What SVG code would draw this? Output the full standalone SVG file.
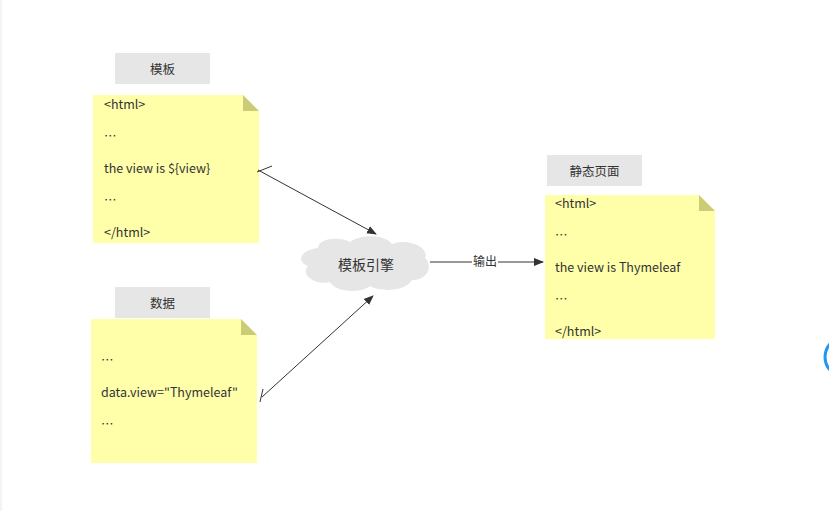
<svg xmlns="http://www.w3.org/2000/svg" width="829" height="511" viewBox="0 0 829 511">
<style>
.t{font-family:"Microsoft YaHei","Noto Sans CJK SC","Liberation Sans",sans-serif;font-size:12.5px;fill:#333}
.lb{fill:#e6e6e6}
.note{fill:#ffffaa}
.fold{fill:#cccc77}
.c{stroke:#333;stroke-width:1;fill:none}
</style>
<defs>
<marker id="a" markerWidth="10" markerHeight="10" refX="9" refY="5" orient="auto" markerUnits="userSpaceOnUse"><path d="M0,1 L10,5 L0,9 Z" fill="#333"/></marker>
</defs>
<rect width="829" height="511" fill="#fff"/>
<line x1="1" y1="0" x2="1" y2="511" stroke="#e8e8e8"/>
<circle cx="845" cy="357" r="20" fill="none" stroke="#2196f3" stroke-width="3"/>
<g id="label1"><rect class="lb" x="115" y="53" width="95" height="31"/><text class="t" x="162.5" y="74" text-anchor="middle">模板</text></g>
<g id="note1"><path class="note" d="M93,95 H243 L259,111 V243 H93 Z"/><path class="fold" d="M243,95 L259,111 H243 Z"/>
<text class="t" x="104" y="109">&lt;html&gt;</text><text class="t" x="104" y="141">…</text><text class="t" x="104" y="173">the view is ${view}</text><text class="t" x="104" y="205">…</text><text class="t" x="104" y="237">&lt;/html&gt;</text></g>
<g id="label2"><rect class="lb" x="115" y="287" width="95" height="31"/><text class="t" x="162.5" y="308" text-anchor="middle">数据</text></g>
<g id="note2"><path class="note" d="M91,319 H241 L257,335 V463 H91 Z"/><path class="fold" d="M241,319 L257,335 H241 Z"/>
<text class="t" x="101" y="365">…</text><text class="t" x="101" y="397">data.view="Thymeleaf"</text><text class="t" x="101" y="429">…</text></g>
<g id="label3"><rect class="lb" x="547" y="155" width="95" height="31"/><text class="t" x="594.5" y="176" text-anchor="middle">静态页面</text></g>
<g id="note3"><path class="note" d="M545,195 H699 L715,211 V339 H545 Z"/><path class="fold" d="M699,195 L715,211 H699 Z"/>
<text class="t" x="555" y="208">&lt;html&gt;</text><text class="t" x="555" y="240">…</text><text class="t" x="555" y="272">the view is Thymeleaf</text><text class="t" x="555" y="304">…</text><text class="t" x="555" y="336">&lt;/html&gt;</text></g>
<g id="engine"><path fill="#e6e6e6" d="M318,248 C318,238 340,236 350,242 C360,234 385,234 392,244 C405,238 430,246 425,258 C432,264 430,280 412,280 C405,292 380,292 370,286 C360,294 335,292 330,282 C314,286 300,274 308,266 C296,262 300,250 318,248 Z"/>
<text class="t" x="366" y="270" text-anchor="middle" style="font-size:14px">模板引擎</text></g>
<g id="connectors">
<path class="c" d="M258,170 L376,234" marker-end="url(#a)"/><path class="c" d="M257,172 L272,166"/>
<path class="c" d="M262,397 L373,296" marker-end="url(#a)"/><path class="c" d="M263,389 L260,402"/>
<path class="c" d="M430,262 L543,262" stroke-width="1.5" marker-end="url(#a)"/>
<rect x="472" y="254" width="26" height="15" fill="#fff"/><text class="t" x="485" y="266" text-anchor="middle" style="font-size:12px">输出</text>
</g>
</svg>
